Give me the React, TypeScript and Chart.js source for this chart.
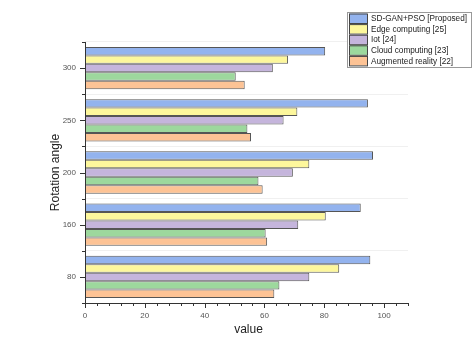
import React, { useEffect, useRef } from "react";
import { Chart, registerables } from "chart.js";

Chart.register(...registerables);

const categories = ["300", "250", "200", "160", "80"];
const seriesNames = [
  "SD-GAN+PSO [Proposed]",
  "Edge computing [25]",
  "Iot [24]",
  "Cloud computing [23]",
  "Augmented reality [22]",
];
const sdGanPso = [80.3, 94.6, 96.3, 92.2, 95.4];
const edgeComputing = [67.9, 71.0, 75.0, 80.5, 85.0];
const iot = [62.8, 66.4, 69.5, 71.3, 75.0];
const cloudComputing = [50.4, 54.3, 58.0, 60.4, 65.0];
const augmentedReality = [53.4, 55.5, 59.4, 60.9, 63.3];
const xTicks = [0, 20, 40, 60, 80, 100];

const colors = ["#93b3ee", "#fdf79c", "#c5b5dc", "#9dd89d", "#fdc395"];

const overlay = {
  id: "overlay",
  afterDraw(chart: any) {
    const ctx = chart.ctx;
    const x = chart.scales.x;
    const y = chart.scales.y;
    const area = chart.chartArea;
    ctx.save();
    ctx.strokeStyle = "#333";
    ctx.lineWidth = 1;
    // axes lines
    ctx.beginPath();
    ctx.moveTo(area.left + 0.5, area.top);
    ctx.lineTo(area.left + 0.5, area.bottom + 0.5);
    ctx.lineTo(area.right, area.bottom + 0.5);
    ctx.stroke();
    // x ticks
    for (let v = 0; v <= 108; v += 4) {
      const px = Math.round(x.getPixelForValue(v)) + 0.5;
      const major = v % 20 === 0;
      ctx.beginPath();
      ctx.moveTo(px, area.bottom);
      ctx.lineTo(px, area.bottom + (major ? 5 : 3));
      ctx.stroke();
    }
    // y ticks
    const n = categories.length;
    for (let i = 0; i < n; i++) {
      const py = Math.round(y.getPixelForValue(i)) + 0.5;
      ctx.beginPath();
      ctx.moveTo(area.left, py);
      ctx.lineTo(area.left - 5, py);
      ctx.stroke();
    }
    for (let i = 0; i <= n; i++) {
      const py = Math.round(y.getPixelForValue(i - 0.5)) + 0.5;
      ctx.beginPath();
      ctx.moveTo(area.left, py);
      ctx.lineTo(area.left - 3, py);
      ctx.stroke();
    }
    // labels
    ctx.fillStyle = "#555";
    ctx.font = "8px 'Liberation Sans', Arial, sans-serif";
    ctx.textAlign = "center";
    ctx.textBaseline = "top";
    xTicks.forEach((v) => {
      ctx.fillText(String(v), x.getPixelForValue(v), area.bottom + 9);
    });
    ctx.textAlign = "right";
    ctx.textBaseline = "middle";
    categories.forEach((c, i) => {
      ctx.fillText(c, area.left - 9, y.getPixelForValue(i));
    });
    // axis titles
    ctx.fillStyle = "#222";
    ctx.font = "12px 'Liberation Sans', Arial, sans-serif";
    ctx.textAlign = "center";
    ctx.textBaseline = "middle";
    ctx.fillText("value", (area.left + area.right) / 2 + 2, 330);
    ctx.save();
    ctx.translate(56, (area.top + area.bottom) / 2);
    ctx.rotate(-Math.PI / 2);
    ctx.fillText("Rotation angle", 0, 0);
    ctx.restore();
    // legend
    const lx = 347, ly = 12, lw = 124, lh = 55;
    ctx.fillStyle = "#fff";
    ctx.fillRect(lx, ly, lw, lh);
    ctx.strokeStyle = "#999";
    ctx.strokeRect(lx + 0.5, ly + 0.5, lw, lh);
    let fs = 9;
    ctx.font = fs + "px 'Liberation Sans', Arial, sans-serif";
    const w0 = ctx.measureText(seriesNames[0]).width;
    if (w0 > 96) fs = (fs * 96) / w0;
    ctx.font = fs.toFixed(2) + "px 'Liberation Sans', Arial, sans-serif";
    ctx.textAlign = "left";
    ctx.textBaseline = "middle";
    chart.data.datasets.forEach((ds: any, i: number) => {
      const ry = ly + 1.5 + i * 10.6;
      ctx.fillStyle = ds.backgroundColor;
      ctx.fillRect(lx + 2, ry, 18, 9.5);
      ctx.strokeStyle = "#444";
      ctx.strokeRect(lx + 2.5, ry + 0.5, 18, 9.5);
      ctx.fillStyle = "#222";
      ctx.fillText(ds.label, lx + 24, ry + 5.5);
    });
    ctx.restore();
  },
};

export default function App() {
  const ref = useRef<HTMLCanvasElement>(null);
  useEffect(() => {
    document.body.style.margin = "0";
    const values = [sdGanPso, edgeComputing, iot, cloudComputing, augmentedReality];
    const chart = new Chart(ref.current!, {
      type: "bar",
      data: {
        labels: categories,
        datasets: seriesNames.map((name, i) => ({
          label: name,
          data: values[i],
          backgroundColor: colors[i],
          borderColor: "#555",
          borderWidth: 1,
          borderSkipped: false,
          categoryPercentage: 0.81,
          barPercentage: 1,
        })),
      },
      options: {
        indexAxis: "y",
        responsive: false,
        animation: false,
        layout: { padding: { top: 42, right: 66, left: 0, bottom: 0 } },
        plugins: { legend: { display: false }, tooltip: { enabled: false } },
        scales: {
          x: {
            type: "linear",
            min: 0,
            max: 108,
            grid: { display: false },
            border: { display: false },
            ticks: { display: false },
            afterFit: (s: any) => {
              s.height = 60;
            },
          },
          y: {
            type: "category",
            offset: true,
            grid: {
              offset: true,
              color: "#f0f0f0",
              drawTicks: false,
            },
            border: { display: false },
            ticks: { display: false },
            afterFit: (s: any) => {
              s.width = 85;
            },
          },
        },
      },
      plugins: [overlay],
    } as any);
    return () => chart.destroy();
  }, []);
  return (
    <div style={{ position: "absolute", left: 0, top: 0, width: 474, height: 363, background: "#fff" }}>
      <canvas ref={ref} width={474} height={363} />
    </div>
  );
}
